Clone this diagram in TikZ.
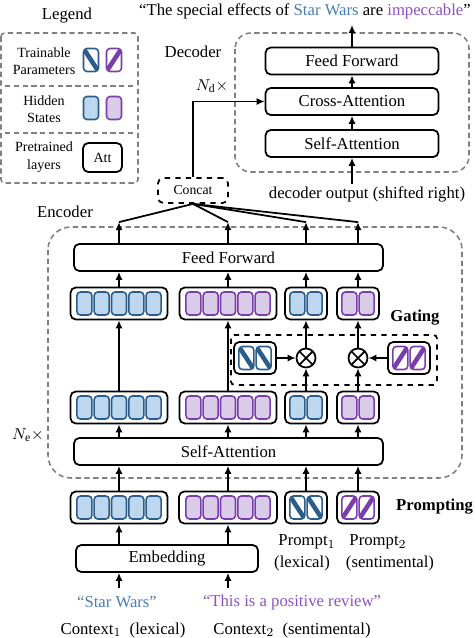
\documentclass[tikz,border=0pt]{standalone}
\usepackage{fontspec}
\setmainfont{Liberation Serif}
\usepackage{tikz}
\usetikzlibrary{arrows.meta,calc}

\definecolor{blueD}{HTML}{2B5C8A}
\definecolor{blueF}{HTML}{BDD7EE}
\definecolor{purpD}{HTML}{7A3DAA}
\definecolor{purpF}{HTML}{D9CCE8}
\definecolor{blueT}{HTML}{4A7EB2}
\definecolor{purpT}{HTML}{8C52C0}
\definecolor{dashG}{HTML}{808080}

\tikzset{
  layer/.style={draw, line width=1pt, rounded corners=3pt, fill=white, inner sep=0pt, minimum height=0.54cm},
  grp/.style={draw, line width=1pt, rounded corners=3pt, fill=white, minimum height=0.64cm, inner sep=0pt},
  cell/.style={line width=0.9pt, rounded corners=2pt, minimum width=0.3cm, minimum height=0.46cm, inner sep=0pt},
  hidb/.style={cell, draw=blueD, fill=blueF},
  hidp/.style={cell, draw=purpD, fill=purpF},
  trnb/.style={cell, draw=blueD, fill=white, path picture={\draw[blueD, line width=2.6pt] (path picture bounding box.north west) -- (path picture bounding box.south east);}},
  trnp/.style={cell, draw=purpD, fill=white, path picture={\draw[purpD, line width=2.6pt] (path picture bounding box.south west) -- (path picture bounding box.north east);}},
  mult/.style={circle, draw, line width=1pt, fill=white, minimum size=0.38cm, inner sep=0pt,
    path picture={\draw[line width=1pt] (path picture bounding box.north west) -- (path picture bounding box.south east)
      (path picture bounding box.south west) -- (path picture bounding box.north east);}},
  arr/.style={line width=1pt, -{Latex[length=4.5pt,width=4pt]}},
  ln/.style={line width=1pt},
  gbox/.style={draw=dashG, line width=0.9pt, dash pattern=on 3pt off 2pt},
  small/.style={font=\fontsize{8}{10}\selectfont, align=center},
}

% a row of cells centred at (x,y)
\newcommand{\cellrow}[4]{\foreach \k in {1,...,#3} \node[#4] at ({#1+17.3*(\k-(#3+1)/2)},#2) {};}

\begin{document}
\begin{tikzpicture}[x=0.02cm, y=-0.02cm, font=\fontsize{9.5}{11}\selectfont]
	\useasboundingbox (0,0) rectangle (474,638);

	% legend
	\node (legt) at (67,16) {Legend};
	\draw[gbox, rounded corners=2pt] (1,33) rectangle (138,183);
	\draw[gbox] (5,86) -- (134,86);
	\draw[gbox] (5,133) -- (134,133);
	\node[small] (ltr) at (44,61) {Trainable\\Parameters};
	\node[trnb] (lt1) at (91,60) {};
	\node[trnp] (lt2) at (114,60) {};
	\node[small] (lhs) at (44,109) {Hidden\\States};
	\node[hidb] (lh1) at (91,108) {};
	\node[hidp] (lh2) at (114,108) {};
	\node[small] (lpt) at (44,157) {Pretrained\\layers};
	\node[layer, small, minimum width=0.78cm, minimum height=0.58cm] (latt) at (102.5,157.5) {Att};

	% decoder
	\node (quote) at (305,11) {``The special effects of \textcolor{blueT}{Star Wars} are \textcolor{purpT}{impeccable}''};
	\node (declab) at (193,52) {Decoder};
	\draw[gbox, rounded corners=9pt] (235,33) rectangle (469,172);
	\node[layer, minimum width=3.46cm] (dff) at (352,61) {Feed Forward};
	\node[layer, minimum width=3.46cm] (dca) at (352,101.5) {Cross-Attention};
	\node[layer, minimum width=3.46cm] (dsa) at (352,143.5) {Self-Attention};
	\node (dout) at (367,194) {decoder output (shifted right)};
	\coordinate (din) at (352,184);
	\coordinate (dtop) at (352,25);
	\draw[arr] (din) -- (dsa.south);
	\draw[arr] (dsa.north) -- (dca.south);
	\draw[arr] (dca.north) -- (dff.south);
	\draw[arr] (dff.north) -- (dtop);
	\node[draw, dashed, line width=1pt, rounded corners=3pt, minimum width=1.4cm, minimum height=0.5cm, inner sep=0pt, font=\fontsize{7.8}{9}\selectfont] (concat) at (193,190.5) {Concat};
	\draw[arr] (concat.north) |- (dca.west);
	\node (nd) at (212,86) {$N_{\mathrm{d}}\times$};

	% encoder
	\node (enclab) at (65,212) {Encoder};
	\draw[gbox, rounded corners=13pt] (48,227) rectangle (462,478);
	\node (ne) at (28,435) {$N_{\mathrm{e}}\times$};
	\node[layer, minimum width=6.18cm] (eff) at (228.5,257.5) {Feed Forward};
	\node[layer, minimum width=6.18cm] (esa) at (228.5,451.5) {Self-Attention};

	\node[grp, minimum width=1.94cm] (u1) at (119,303.5) {};
	\node[grp, minimum width=1.94cm] (u2) at (228,303.5) {};
	\node[grp, minimum width=0.84cm] (u3) at (306,303.5) {};
	\node[grp, minimum width=0.84cm] (u4) at (358,303.5) {};
	\cellrow{119}{303.5}{5}{hidb}
	\cellrow{228}{303.5}{5}{hidp}
	\cellrow{306}{303.5}{2}{hidb}
	\cellrow{358}{303.5}{2}{hidp}

	\node[grp, minimum width=1.94cm] (l1) at (119,407.5) {};
	\node[grp, minimum width=1.94cm] (l2) at (228,407.5) {};
	\node[grp, minimum width=0.84cm] (l3) at (306,407.5) {};
	\node[grp, minimum width=0.84cm] (l4) at (358,407.5) {};
	\cellrow{119}{407.5}{5}{hidb}
	\cellrow{228}{407.5}{5}{hidp}
	\cellrow{306}{407.5}{2}{hidb}
	\cellrow{358}{407.5}{2}{hidp}

	% gating
	\draw[dashed, line width=1pt, rounded corners=2pt] (231,335) rectangle (437,385);
	\node[font=\fontsize{9.5}{11}\selectfont\bfseries] (gatlab) at (415,318) {Gating};
	\node[grp, minimum width=0.84cm] (g1) at (255,358) {};
	\cellrow{255}{358}{2}{trnb}
	\node[grp, minimum width=0.84cm] (g2) at (409,358) {};
	\cellrow{409}{358}{2}{trnp}
	\node[mult] (m1) at (306,358) {};
	\node[mult] (m2) at (358,358) {};

	% prompting
	\node[grp, minimum width=1.94cm] (p1) at (119,507.5) {};
	\node[grp, minimum width=1.96cm] (p2) at (228,507.5) {};
	\node[grp, minimum width=0.84cm] (p3) at (306,507.5) {};
	\node[grp, minimum width=0.84cm] (p4) at (358,507.5) {};
	\cellrow{119}{507.5}{5}{hidb}
	\cellrow{228}{507.5}{5}{hidp}
	\cellrow{306}{507.5}{2}{trnb}
	\cellrow{358}{507.5}{2}{trnp}
	\node[font=\fontsize{9.5}{11}\selectfont\bfseries, anchor=west] (prlab) at (390,507) {Prompting};

	\node[layer, minimum width=3.64cm] (emb) at (167,558.5) {Embedding};
	\node (pl1) at (307,542) {Prompt$_1$};
	\node (pl1b) at (302,563) {(lexical)};
	\node (pl2) at (378,542) {Prompt$_2$};
	\node (pl2b) at (390,563) {(sentimental)};
	\node[text=blueT] (in1) at (117,602) {``Star Wars''};
	\node[text=purpT] (in2) at (292,602) {``This is a positive review''};
	\node (ctx1) at (123,630) {Context$_1$ \ (lexical)};
	\node (ctx2) at (292,630) {Context$_2$ \ (sentimental)};
	\coordinate (i1) at (119,588);
	\coordinate (i2) at (228,588);

	% connectors
	\draw[arr] (i1) -- (emb.south -| i1);
	\draw[arr] (i2) -- (emb.south -| i2);
	\draw[arr] (emb.north -| p1) -- (p1.south);
	\draw[arr] (emb.north -| p2) -- (p2.south);
	\foreach \g in {1,...,4} {
		\draw[arr] (p\g.north) -- (esa.south -| p\g);
		\draw[arr] (esa.north -| l\g) -- (l\g.south);
		\draw[arr] (u\g.north) -- (eff.south -| u\g);
		\coordinate (k\g) at ($(eff.north -| u\g)+(0,-21)$);
		\draw[arr] (eff.north -| u\g) -- (k\g);
		\draw[ln] (k\g) -- (concat.south);
	}
	\draw[arr] (l1.north) -- (u1.south);
	\draw[arr] (l2.north) -- (u2.south);
	\draw[arr] (l3.north) -- (m1.south);
	\draw[arr] (m1.north) -- (u3.south);
	\draw[arr] (l4.north) -- (m2.south);
	\draw[arr] (m2.north) -- (u4.south);
	\draw[arr] (g1.east) -- (m1.west);
	\draw[arr] (g2.west) -- (m2.east);

\end{tikzpicture}
\end{document}
